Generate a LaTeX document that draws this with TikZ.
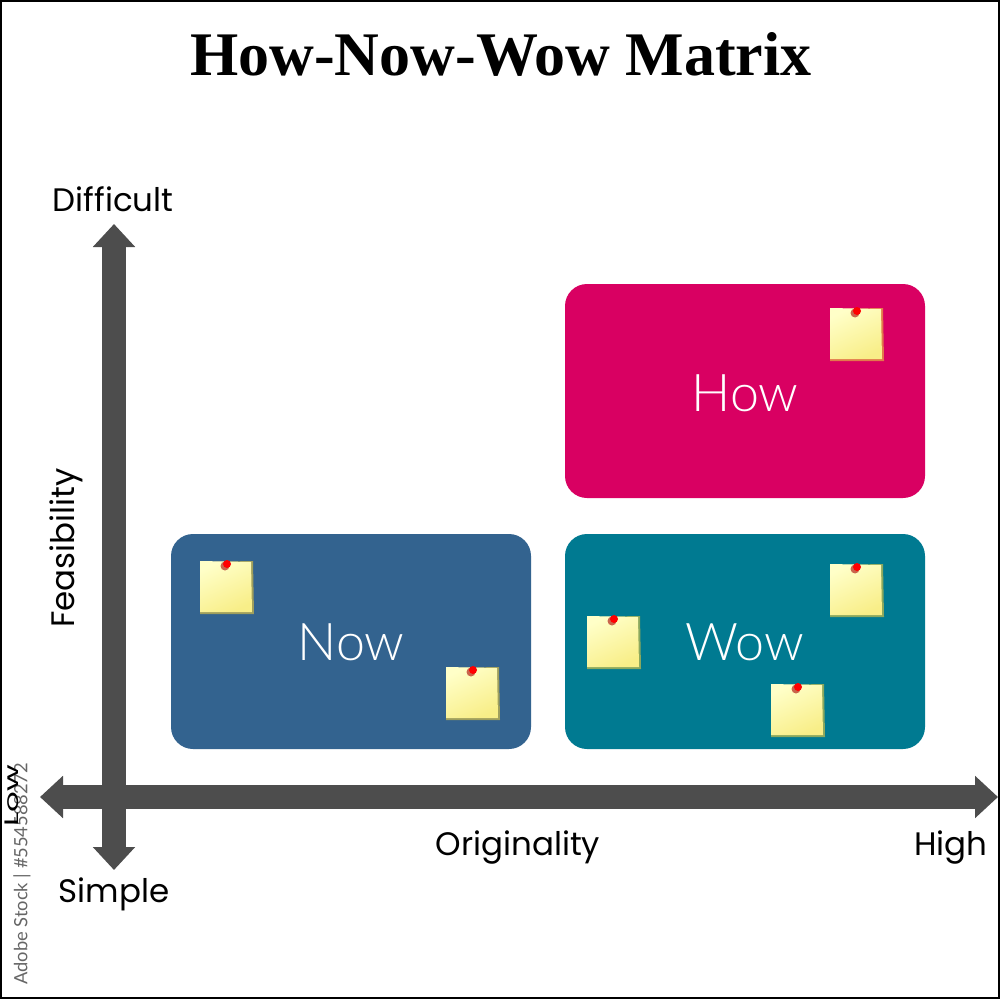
\documentclass[tikz,border=0pt]{standalone}
\usepackage{fontspec}
\usepackage{graphicx}
\setmainfont{Lato}
\newfontfamily\titlefont{Liberation Serif}
\newfontfamily\axisfont{Poppins}
\newfontfamily\quadfont{Lato Light}
\usetikzlibrary{arrows.meta,shadings}
\definecolor{howc}{HTML}{D90062}
\definecolor{nowc}{HTML}{33638F}
\definecolor{wowc}{HTML}{007A91}
\definecolor{axisc}{HTML}{4D4D4D}
\definecolor{stickyglow}{HTML}{E8C83C}
\definecolor{stickyend}{HTML}{F8EE88}
\definecolor{stickystart}{HTML}{FFFFC8}
\tikzset{
  x=1pt,y=-1pt,
  quadbox/.style={rounded corners=22pt,draw=none},
  quadlabel/.style={text=white,font=\quadfont\fontsize{52}{58}\selectfont,inner sep=0pt},
  axislabel/.style={text=black,font=\axisfont\fontsize{32.5}{38}\selectfont,inner sep=0pt},
  axisarrow/.style={draw=axisc,line width=23.5pt,{Triangle[width=41pt,length=23pt]}-{Triangle[width=41pt,length=23pt]}},
  sticky/.pic={
    \fill[stickyglow,opacity=.6] (-25,-25) -- (27,-26) -- (28,27) -- (-26,27) -- cycle;
    \shade[left color=stickystart,right color=stickyend,shading angle=25]
      (-26,-26) -- (25,-25) -- (26,25) -- (-26,25) -- cycle;
    \fill[red!65!black,opacity=.6] (-1,-21) circle (4.5);
    \fill[red] (1,-23) circle (4);
  }
}
\begin{document}
\begin{tikzpicture}
\useasboundingbox (0,0) rectangle (1000,1000);
\fill[white] (0,0) rectangle (1000,1000);
\draw[black,line width=1.5pt] (1,1) rectangle (999,998);
\node[font=\titlefont\bfseries\fontsize{62}{68}\selectfont,inner sep=0pt] (title) at (501,54) {How-Now-Wow Matrix};
\fill[quadbox,howc] (565,284) rectangle (925,498);
\fill[quadbox,nowc] (171,534) rectangle (531,749);
\fill[quadbox,wowc] (565,534) rectangle (925,749);
\node[quadlabel] (how) at (745,393) {How};
\node[quadlabel] (now) at (351,642) {Now};
\node[quadlabel] (wow) at (745,642) {Wow};
\pic at (856,334) {sticky};
\pic at (226,587) {sticky};
\pic at (472,693) {sticky};
\pic at (856,590) {sticky};
\pic at (613,642) {sticky};
\pic at (797,710) {sticky};
\coordinate (vtop) at (114,224);
\coordinate (vbot) at (114,870);
\coordinate (hleft) at (40,797);
\coordinate (hright) at (998,797);
\draw[axisarrow] (vbot) -- (vtop);
\draw[axisarrow] (hleft) -- (hright);
\node[axislabel] (difficult) at (113,199) {Difficult};
\node[axislabel] (simple) at (114,894) {Simple};
\node[axislabel] (originality) at (518,848) {Originality};
\node[axislabel] (high) at (951,848) {High};
\node[axislabel,rotate=90] (feasibility) at (66,548) {Feasibility};
\node[text=black!60,font=\fontsize{18.3}{22}\selectfont,rotate=90,inner sep=0pt,anchor=west] (stock) at (22,985) {Adobe Stock | \#554588272};
\node[axislabel,rotate=90,anchor=base] (low) at (18,796) {\scalebox{1}[0.6]{Low}};
\end{tikzpicture}
\end{document}
